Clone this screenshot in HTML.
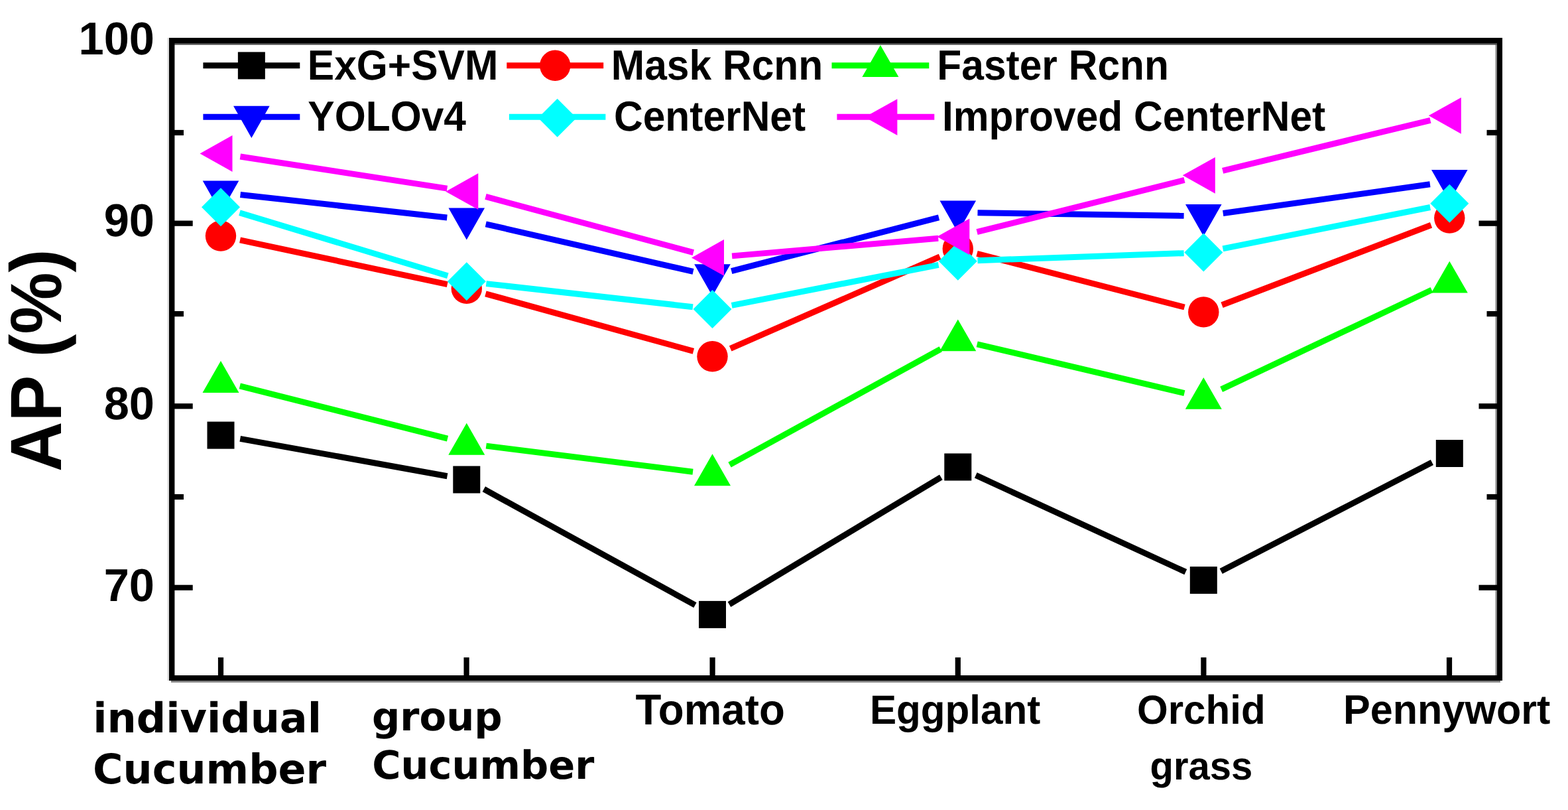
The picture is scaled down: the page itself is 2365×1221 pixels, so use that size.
<!DOCTYPE html>
<html lang="en"><head><meta charset="utf-8"><title>AP (%) comparison chart</title>
<style>
html,body{margin:0;padding:0;background:#fff;}
body{width:2365px;height:1221px;overflow:hidden;}
svg{display:block;}
text{font-family:"Liberation Sans",sans-serif;font-weight:bold;fill:#000;text-rendering:geometricPrecision;}
.tk{font-size:68.6px;text-anchor:end;}
.lg{font-size:60.5px;}
.dj{font-family:"DejaVu Sans","Liberation Sans",sans-serif;}
</style></head><body>
<svg width="2365" height="1221" viewBox="0 0 2365 1221">
<rect x="0" y="0" width="2365" height="1221" fill="#ffffff"/>
<g id="frame">
<rect x="252.5" y="57" width="2.5" height="969" fill="#dcdcdc"/>
<rect x="2255.5" y="65" width="2.5" height="953" fill="#8a8a8a"/>
<rect x="255" y="65" width="2011" height="2.6" fill="#4a4a4a"/>
<rect x="258" y="1026" width="2005" height="2.8" fill="#808080"/>
<rect x="255" y="57" width="8.4" height="969" fill="#000"/>
<rect x="2258" y="57" width="8" height="969" fill="#000"/>
<rect x="255" y="57" width="2011" height="8" fill="#000"/>
<rect x="255" y="1018" width="2011" height="8" fill="#000"/>
</g>
<g id="ticks" fill="#000">
<rect x="263" y="332.6" width="27.7" height="8.2"/>
<rect x="2230.5" y="332.6" width="28" height="8.2"/>
<rect x="263" y="608.2" width="27.7" height="8.2"/>
<rect x="2230.5" y="608.2" width="28" height="8.2"/>
<rect x="263" y="881.7" width="27.7" height="8.2"/>
<rect x="2230.5" y="881.7" width="28" height="8.2"/>
<rect x="263" y="195.9" width="14" height="8.2"/>
<rect x="2242.5" y="195.9" width="16" height="8.2"/>
<rect x="263" y="469" width="14" height="8.2"/>
<rect x="2242.5" y="469" width="16" height="8.2"/>
<rect x="263" y="744.9" width="14" height="8.2"/>
<rect x="2242.5" y="744.9" width="16" height="8.2"/>
<rect x="328.9" y="991" width="8.2" height="28"/>
<rect x="699.5" y="991" width="8.2" height="28"/>
<rect x="1070.5" y="991" width="8.2" height="28"/>
<rect x="1440.7" y="991" width="8.2" height="28"/>
<rect x="1811.3" y="991" width="8.2" height="28"/>
<rect x="2181.9" y="991" width="8.2" height="28"/>
</g>
<g id="legend">
<line x1="306.4" y1="98.8" x2="452.3" y2="98.8" stroke="#000000" stroke-width="9"/>
<rect x="358.85" y="78.4" width="41" height="41" fill="#000000"/>
<text class="lg" transform="translate(463.8 119.6) scale(1 1.05)">ExG+SVM</text>
<line x1="764.3" y1="98.8" x2="910.2" y2="98.8" stroke="#ff0000" stroke-width="9"/>
<circle cx="837.25" cy="98.8" r="23.2" fill="#ff0000"/>
<text class="lg" transform="translate(921.8 119.6) scale(1 1.05)">Mask Rcnn</text>
<line x1="1254.5" y1="98.8" x2="1401.3" y2="98.8" stroke="#00ff00" stroke-width="9"/>
<polygon points="1327.9,68.1 1355.4,116 1300.4,116" fill="#00ff00"/>
<text class="lg" transform="translate(1413.3 119.6) scale(1 1.05)">Faster Rcnn</text>
<line x1="306.4" y1="176.3" x2="452.3" y2="176.3" stroke="#0000ff" stroke-width="9"/>
<polygon points="352.05,159.8 406.65,159.8 379.35,207.9" fill="#0000ff"/>
<text class="lg" transform="translate(464.3 197.1) scale(1 1.05)">YOLOv4</text>
<line x1="767.9" y1="176.3" x2="913.4" y2="176.3" stroke="#00ffff" stroke-width="9"/>
<polygon points="840.65,148.7 869.65,177.7 840.65,206.7 811.65,177.7" fill="#00ffff"/>
<text class="lg" transform="translate(926 197.1) scale(1 1.05)">CenterNet</text>
<line x1="1262.4" y1="176.3" x2="1409.3" y2="176.3" stroke="#ff00ff" stroke-width="9"/>
<polygon points="1304.35,176.6 1353.35,149.2 1353.35,204" fill="#ff00ff"/>
<text class="lg" transform="translate(1421 197.1) scale(1 1.05)">Improved CenterNet</text>
</g>
<g stroke="#000000" stroke-width="9" fill="none">
<line x1="362.23" y1="661.37" x2="674.57" y2="717.73"/>
<line x1="729.84" y1="737.29" x2="1048.46" y2="912.11"/>
<line x1="1099.96" y1="911.11" x2="1419.34" y2="719.29"/>
<line x1="1471.78" y1="716.42" x2="1788.32" y2="862.18"/>
<line x1="1841.7" y1="861" x2="2159.9" y2="697.1"/>
</g>
<g>
<rect x="312.5" y="635.6" width="41" height="41" fill="#000000"/>
<rect x="683.3" y="702.5" width="41" height="41" fill="#000000"/>
<rect x="1054" y="905.9" width="41" height="41" fill="#000000"/>
<rect x="1424.3" y="683.5" width="41" height="41" fill="#000000"/>
<rect x="1794.8" y="854.1" width="41" height="41" fill="#000000"/>
<rect x="2165.8" y="663" width="41" height="41" fill="#000000"/>
</g>
<g stroke="#ff0000" stroke-width="9" fill="none">
<line x1="362.04" y1="361.81" x2="674.76" y2="428.69"/>
<line x1="732.43" y1="442.81" x2="1045.87" y2="529.39"/>
<line x1="1101.7" y1="525.38" x2="1417.6" y2="386.92"/>
<line x1="1473.56" y1="382.41" x2="1786.54" y2="462.99"/>
<line x1="1843.04" y1="459.8" x2="2158.56" y2="339.2"/>
</g>
<g>
<circle cx="333" cy="355.6" r="23.2" fill="#ff0000"/>
<circle cx="703.8" cy="434.9" r="23.2" fill="#ff0000"/>
<circle cx="1074.5" cy="537.3" r="23.2" fill="#ff0000"/>
<circle cx="1444.8" cy="375" r="23.2" fill="#ff0000"/>
<circle cx="1815.3" cy="470.4" r="23.2" fill="#ff0000"/>
<circle cx="2186.3" cy="328.6" r="23.2" fill="#ff0000"/>
</g>
<g stroke="#00ff00" stroke-width="9" fill="none">
<line x1="361.79" y1="581.98" x2="675.01" y2="661.12"/>
<line x1="733.27" y1="672.1" x2="1045.03" y2="711.2"/>
<line x1="1100.55" y1="700.63" x2="1418.75" y2="526.27"/>
<line x1="1473.7" y1="518.83" x2="1786.4" y2="592.67"/>
<line x1="1842.16" y1="586.82" x2="2159.44" y2="436.98"/>
</g>
<g>
<polygon points="333,544.1 360.5,592 305.5,592" fill="#00ff00"/>
<polygon points="703.8,637.8 731.3,685.7 676.3,685.7" fill="#00ff00"/>
<polygon points="1074.5,684.3 1102,732.2 1047,732.2" fill="#00ff00"/>
<polygon points="1444.8,481.4 1472.3,529.3 1417.3,529.3" fill="#00ff00"/>
<polygon points="1815.3,568.9 1842.8,616.8 1787.8,616.8" fill="#00ff00"/>
<polygon points="2186.3,393.7 2213.8,441.6 2158.8,441.6" fill="#00ff00"/>
</g>
<g stroke="#0000ff" stroke-width="9" fill="none">
<line x1="362.52" y1="293.56" x2="674.28" y2="327.94"/>
<line x1="732.75" y1="337.82" x2="1045.55" y2="409.38"/>
<line x1="1103.26" y1="408.58" x2="1416.04" y2="327.82"/>
<line x1="1474.5" y1="320.82" x2="1785.6" y2="325.28"/>
<line x1="1844.71" y1="321.58" x2="2156.89" y2="277.82"/>
</g>
<g>
<polygon points="305.7,272.5 360.3,272.5 333,320.6" fill="#0000ff"/>
<polygon points="676.5,313.4 731.1,313.4 703.8,361.5" fill="#0000ff"/>
<polygon points="1047.2,398.2 1101.8,398.2 1074.5,446.3" fill="#0000ff"/>
<polygon points="1417.5,302.6 1472.1,302.6 1444.8,350.7" fill="#0000ff"/>
<polygon points="1788,307.9 1842.6,307.9 1815.3,356" fill="#0000ff"/>
<polygon points="2159,255.9 2213.6,255.9 2186.3,304" fill="#0000ff"/>
</g>
<g stroke="#00ffff" stroke-width="9" fill="none">
<line x1="361.43" y1="320.79" x2="675.37" y2="415.71"/>
<line x1="733.31" y1="427.62" x2="1044.99" y2="462.68"/>
<line x1="1103.65" y1="460.31" x2="1415.65" y2="399.39"/>
<line x1="1474.48" y1="392.65" x2="1785.62" y2="381.65"/>
<line x1="1844.43" y1="374.8" x2="2157.17" y2="312.5"/>
</g>
<g>
<polygon points="333,283.2 362,312.2 333,341.2 304,312.2" fill="#00ffff"/>
<polygon points="703.8,395.3 732.8,424.3 703.8,453.3 674.8,424.3" fill="#00ffff"/>
<polygon points="1074.5,437 1103.5,466 1074.5,495 1045.5,466" fill="#00ffff"/>
<polygon points="1444.8,364.7 1473.8,393.7 1444.8,422.7 1415.8,393.7" fill="#00ffff"/>
<polygon points="1815.3,351.6 1844.3,380.6 1815.3,409.6 1786.3,380.6" fill="#00ffff"/>
<polygon points="2186.3,277.7 2215.3,306.7 2186.3,335.7 2157.3,306.7" fill="#00ffff"/>
</g>
<g stroke="#ff00ff" stroke-width="9" fill="none">
<line x1="362.35" y1="236.03" x2="674.45" y2="284.17"/>
<line x1="732.48" y1="296.41" x2="1045.82" y2="380.69"/>
<line x1="1104.09" y1="385.87" x2="1415.21" y2="359.33"/>
<line x1="1473.62" y1="349.61" x2="1786.48" y2="271.49"/>
<line x1="1844.16" y1="257.3" x2="2157.44" y2="181.3"/>
</g>
<g>
<polygon points="301.5,231.5 350.5,204.1 350.5,258.9" fill="#ff00ff"/>
<polygon points="672.3,288.7 721.3,261.3 721.3,316.1" fill="#ff00ff"/>
<polygon points="1043,388.4 1092,361 1092,415.8" fill="#ff00ff"/>
<polygon points="1413.3,356.8 1462.3,329.4 1462.3,384.2" fill="#ff00ff"/>
<polygon points="1783.8,264.3 1832.8,236.9 1832.8,291.7" fill="#ff00ff"/>
<polygon points="2154.8,174.3 2203.8,146.9 2203.8,201.7" fill="#ff00ff"/>
</g>
<g id="ylabels">
<text class="tk" transform="translate(233 82.3) scale(1 1.015)">100</text>
<text class="tk" transform="translate(233 356.3) scale(1 1.015)">90</text>
<text class="tk" transform="translate(233 631.9) scale(1 1.015)">80</text>
<text class="tk" transform="translate(233 905.7) scale(1 1.015)">70</text>
</g>
<text transform="translate(92.3 711.0) rotate(-90) scale(1 1.044)" font-size="104.7">AP (%)</text>
<g id="xlabels">
<text class="dj" font-size="62.1" text-anchor="start" transform="translate(140.2 1104.4) scale(1 1)">individual</text>
<text class="dj" font-size="62" text-anchor="start" transform="translate(140 1180.5) scale(1 1)">Cucumber</text>
<text class="dj" font-size="59.2" text-anchor="start" transform="translate(561 1101) scale(1 1)">group</text>
<text class="dj" font-size="59" text-anchor="start" transform="translate(561.2 1173.6) scale(1 1)">Cucumber</text>
<text font-size="63.7" text-anchor="middle" transform="translate(1071.2 1091.6) scale(1 1.02)">Tomato</text>
<text font-size="60.2" text-anchor="middle" transform="translate(1440.6 1091.2) scale(1 1.02)">Eggplant</text>
<text font-size="60.1" text-anchor="middle" transform="translate(1811.8 1091) scale(1 1.02)">Orchid</text>
<text font-size="58" text-anchor="middle" transform="translate(1812 1175.4) scale(1 1.02)">grass</text>
<text font-size="61.1" text-anchor="middle" transform="translate(2182.2 1091.2) scale(1 1.02)">Pennywort</text>
</g>
</svg>
</body></html>
